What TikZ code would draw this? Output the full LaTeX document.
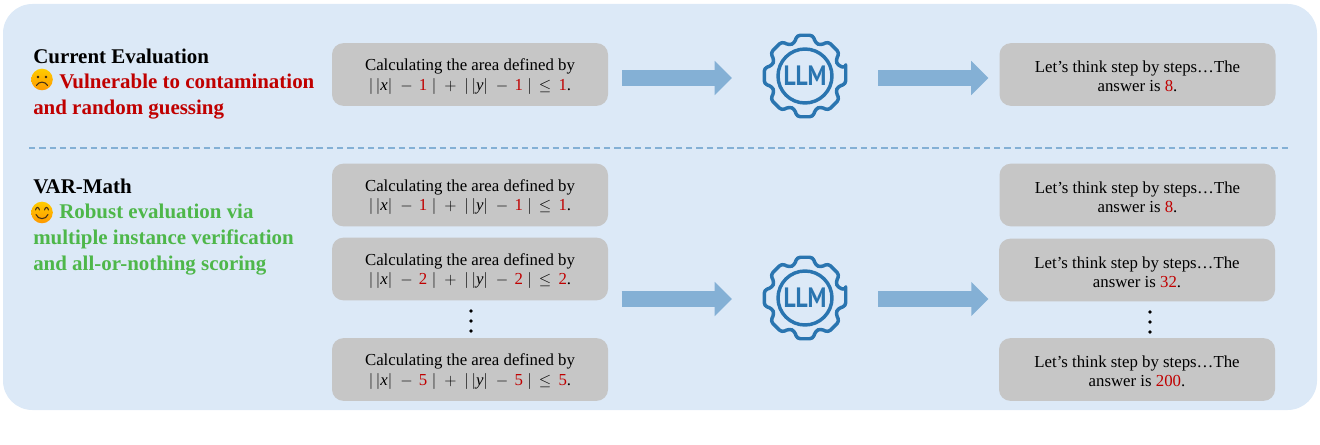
\documentclass[tikz,border=0pt]{standalone}
\usepackage{fontspec}
\usepackage{amsmath}
\setmainfont{Liberation Serif}
\newfontfamily\gearfont{PT Sans}
\usetikzlibrary{arrows.meta,positioning}
\definecolor{panelblue}{HTML}{DCE9F7}
\definecolor{boxgray}{HTML}{C6C6C6}
\definecolor{flowblue}{HTML}{84B0D5}
\definecolor{gearblue}{HTML}{2A75B0}
\definecolor{numred}{HTML}{C00000}
\definecolor{goodgreen}{HTML}{4EB74A}
\tikzset{
  mathbox/.style={fill=boxgray, rounded corners=8.5pt, minimum width=207pt, minimum height=47pt, inner sep=0pt, align=center, font=\fontsize{12.6pt}{14.3pt}\selectfont},
  flowarrow/.style={draw=flowblue, line width=12.4pt, -{Triangle[length=12.8pt, width=25pt]}},
  headtext/.style={anchor=north west, inner sep=0pt, align=left, font=\fontsize{15.7pt}{19.2pt}\selectfont\bfseries},
  gearnode/.style={circle, inner sep=0pt, minimum size=63pt, text=gearblue, font=\gearfont\bfseries\fontsize{21pt}{21pt}\selectfont},
  gearline/.style={draw=gearblue, line width=2.6pt, line join=round},
  faceline/.style={draw=black!65!brown, line width=0.8pt, line cap=round}
}
\newcommand{\rd}[1]{\textcolor{numred}{#1}}
\newcommand{\areatext}[1]{\rule{0pt}{12pt}Calculating the area defined by\\ $|\,|\mathit{x}|\;-\,\rd{\mathrm{#1}}\;|\;+\;|\,|\mathit{y}|\;-\,\rd{\mathrm{#1}}\;|\,\leq\,\rd{\mathrm{#1}}$.}
\newcommand{\answertext}[1]{\rule{0pt}{12pt}Let’s think step by steps…The\\ answer is \rd{#1}.}
\newcommand{\llmword}{\scalebox{0.84}[1]{LLM}}
\begin{document}
\begin{tikzpicture}[x=0.75pt, y=-0.75pt]
\useasboundingbox (0,0) rectangle (1320,445);
\fill[panelblue, rounded corners=22pt] (3,4) rectangle (1317,410);
\draw[flowblue, line width=1.4pt, dash pattern=on 4.8pt off 2.9pt] (29,148) -- (1290,148);
\coordinate (row1) at (0,78);
\coordinate (row2) at (0,299);
% top row
\node[headtext] (curtitle) at (33,48.5) {Current Evaluation\\\rule{19.5pt}{0pt}\textcolor{numred}{Vulnerable to contamination}\\\textcolor{numred}{and random guessing}};
\node[mathbox] (q1) at (470,74.5) {\areatext{1}};
\node[mathbox] (a1) at (1137.5,74.5) {\answertext{8}};
\node[gearnode] (gear1) at (805,76) {\llmword};
\draw[flowarrow, shorten <=10.5pt, shorten >=23.2pt] (q1.east |- row1) -- (gear1.west |- row1);
\draw[flowarrow, shorten <=23.2pt, shorten >=8.2pt] (gear1.east |- row1) -- (a1.west |- row1);
% bottom rows
\node[headtext] (vartitle) at (33,178.5) {VAR-Math\\\rule{19.5pt}{0pt}\textcolor{goodgreen}{Robust evaluation via}\\\textcolor{goodgreen}{multiple instance verification}\\\textcolor{goodgreen}{and all-or-nothing scoring}};
\node[mathbox] (q2) at (470,195) {\areatext{1}};
\node[mathbox] (q3) at (470,269) {\areatext{2}};
\node[mathbox] (q4) at (470,369.5) {\areatext{5}};
\node[mathbox] (a2) at (1137.5,195) {\answertext{8}};
\node[mathbox] (a3) at (1137,270) {\answertext{32}};
\node[mathbox] (a4) at (1137,369.5) {\answertext{200}};
\node[gearnode] (gear2) at (805,298) {\llmword};
\draw[flowarrow, shorten >=23.2pt, shorten <=10pt] (q3.east |- row2) -- (gear2.west |- row2);
\draw[flowarrow, shorten <=23.2pt, shorten >=7.8pt] (gear2.east |- row2) -- (a3.west |- row2);
\foreach \x/\y in {471/311,1150/312}{
  \fill (\x,\y) circle (1.4pt) (\x,\y+10) circle (1.4pt) (\x,\y+20) circle (1.4pt);
}
% gears
\foreach \g in {gear1,gear2}{
  \draw[gearline, shift={(\g.center)}, rounded corners=2.4pt] (-11:41.5) \foreach \a in {0,45,...,315} { -- (\a-11:41.5) -- (\a+11:41.5) -- (\a+18:34.5) -- (\a+27:34.5)} -- cycle;
  \draw[gearline] (\g.center) circle (27);
}
% faces
\shade[top color=yellow!60!orange, bottom color=orange!80!yellow] (42,79.5) circle (10.8);
\fill[black!70!brown] (38,77) circle (1.4) (46,77) circle (1.4);
\draw[faceline] (36.5,85.5) .. controls (39,81) and (45,81) .. (47.5,85.5);
\shade[top color=yellow!60!orange, bottom color=orange!80!yellow] (42,212.5) circle (10.8);
\draw[faceline] (35.5,210) .. controls (36.5,206.5) and (38.5,206.5) .. (39.5,210);
\draw[faceline] (44.5,210) .. controls (45.5,206.5) and (47.5,206.5) .. (48.5,210);
\draw[faceline] (36,214.5) .. controls (38,220) and (46,220) .. (48,214.5);
\end{tikzpicture}
\end{document}
